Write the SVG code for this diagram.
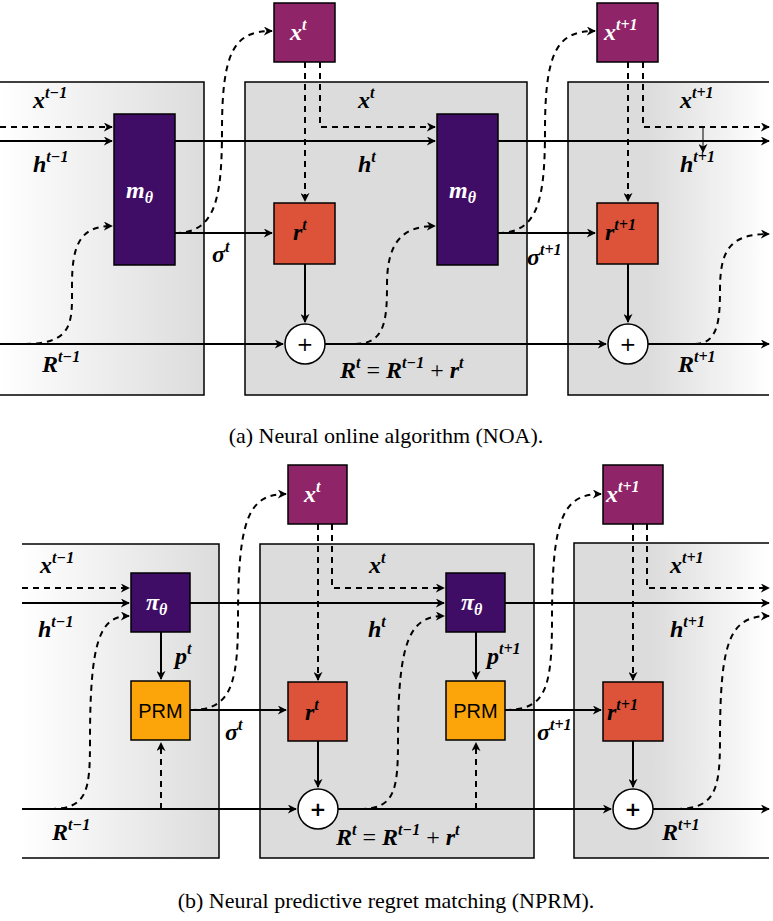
<svg xmlns="http://www.w3.org/2000/svg" width="773" height="921" viewBox="0 0 773 921">
<style>
.ln{stroke:#000;stroke-width:2;fill:none}
.ds{stroke:#000;stroke-width:2;fill:none;stroke-dasharray:6,5}
.m{font-family:"Liberation Serif",serif;font-style:italic;font-weight:bold;font-size:24px;fill:#000}
.w{fill:#fff}
.sp{font-size:16px}
.cap{font-family:"Liberation Serif",serif;font-size:22px;fill:#000}
.box{stroke:#000;stroke-width:1.5}
</style>
<defs>
<marker id="ah" viewBox="0 0 10 10" refX="9" refY="5" markerWidth="9" markerHeight="9" markerUnits="userSpaceOnUse" orient="auto"><path d="M0,0 L10,5 L0,10 L3,5 z" fill="#000"/></marker>
<linearGradient id="gl" x1="0" x2="1" y1="0" y2="0"><stop offset="0" stop-color="#fff"/><stop offset="1" stop-color="#dcdcdc"/></linearGradient>
<linearGradient id="gr" x1="0" x2="1" y1="0" y2="0"><stop offset="0" stop-color="#dcdcdc"/><stop offset="0.4" stop-color="#dcdcdc"/><stop offset="1" stop-color="#fff"/></linearGradient>
</defs>

<!-- panel a backgrounds -->
<g id="a-cells">
<path d="M0,82 H204 V395 H0" fill="url(#gl)" stroke="#000" stroke-width="1.5"/>
<rect x="245" y="82" width="282" height="313" fill="#dcdcdc" stroke="#000" stroke-width="1.5"/>
<path d="M769,82 H568 V395 H769" fill="url(#gr)" stroke="#000" stroke-width="1.5"/>
</g>
<!-- panel b backgrounds -->
<g id="b-cells">
<path d="M22,544 H219 V858 H22" fill="url(#gl)" stroke="#000" stroke-width="1.5"/>
<rect x="260" y="544" width="274" height="314" fill="#dcdcdc" stroke="#000" stroke-width="1.5"/>
<path d="M769,543 H574 V858 H769" fill="url(#gr)" stroke="#000" stroke-width="1.5"/>
</g>

<g id="connectors">
<!-- panel a -->
<path class="ds" d="M0,127 H112" marker-end="url(#ah)"/>
<path class="ln" d="M0,141 H112" marker-end="url(#ah)"/>
<path class="ds" d="M25,344 C75,344 72,320 72,285 C72,245 80,226 112,226" marker-end="url(#ah)"/>
<path class="ds" d="M175,233 C215,233 222,200 222,130 C222,50 235,31 272,31" marker-end="url(#ah)"/>
<path class="ln" d="M175,233 H272" marker-end="url(#ah)"/>
<path class="ln" d="M175,141 H435" marker-end="url(#ah)"/>
<path class="ds" d="M305,62 V201" marker-end="url(#ah)"/>
<path class="ds" d="M320,62 V127 H435" marker-end="url(#ah)"/>
<path class="ln" d="M305,264 V322" marker-end="url(#ah)"/>
<path class="ln" d="M0,344 H283" marker-end="url(#ah)"/>
<path class="ln" d="M325,344 H606" marker-end="url(#ah)"/>
<path class="ds" d="M355,344 C385,344 387,320 387,285 C387,245 400,226 435,226" marker-end="url(#ah)"/>
<path class="ln" d="M498,141 H769" marker-end="url(#ah)"/>
<path class="ds" d="M498,233 C538,233 545,200 545,130 C545,50 558,31 595,31" marker-end="url(#ah)"/>
<path class="ln" d="M498,233 H595" marker-end="url(#ah)"/>
<path class="ds" d="M628,62 V201" marker-end="url(#ah)"/>
<path class="ds" d="M643,62 V127 H769" marker-end="url(#ah)"/>
<path d="M703,127 V152" stroke="#000" stroke-width="1" fill="none" marker-end="url(#ah)"/>
<path class="ln" d="M628,264 V322" marker-end="url(#ah)"/>
<path class="ln" d="M648,344 H769" marker-end="url(#ah)"/>
<path class="ds" d="M695,344 C718,344 720,320 720,290 C720,250 730,234 769,234" marker-end="url(#ah)"/>

<!-- panel b -->
<path class="ds" d="M22,588 H129" marker-end="url(#ah)"/>
<path class="ln" d="M22,603 H129" marker-end="url(#ah)"/>
<path class="ds" d="M50,809 C88,809 90,790 90,740 C90,640 100,616 129,616" marker-end="url(#ah)"/>
<path class="ln" d="M161,632 V679" marker-end="url(#ah)"/>
<path class="ds" d="M161,809 V743" marker-end="url(#ah)"/>
<path class="ds" d="M190,710 C228,710 238,690 238,620 C238,520 248,494 286,494" marker-end="url(#ah)"/>
<path class="ln" d="M190,710 H286" marker-end="url(#ah)"/>
<path class="ln" d="M190,603 H444" marker-end="url(#ah)"/>
<path class="ds" d="M318,524 V680" marker-end="url(#ah)"/>
<path class="ds" d="M332,524 V588 H444" marker-end="url(#ah)"/>
<path class="ln" d="M318,741 V787" marker-end="url(#ah)"/>
<path class="ln" d="M22,809 H296" marker-end="url(#ah)"/>
<path class="ln" d="M338,809 H611" marker-end="url(#ah)"/>
<path class="ds" d="M360,809 C395,809 398,790 398,740 C398,640 410,616 444,616" marker-end="url(#ah)"/>
<path class="ln" d="M476,632 V679" marker-end="url(#ah)"/>
<path class="ds" d="M476,809 V743" marker-end="url(#ah)"/>
<path class="ds" d="M505,710 C545,710 552,690 552,620 C552,520 562,494 601,494" marker-end="url(#ah)"/>
<path class="ln" d="M505,710 H601" marker-end="url(#ah)"/>
<path class="ln" d="M505,603 H769" marker-end="url(#ah)"/>
<path class="ds" d="M633,524 V680" marker-end="url(#ah)"/>
<path class="ds" d="M647,524 V588 H769" marker-end="url(#ah)"/>
<path class="ln" d="M633,741 V787" marker-end="url(#ah)"/>
<path class="ln" d="M653,809 H769" marker-end="url(#ah)"/>
<path class="ds" d="M676,809 C715,809 720,790 720,740 C720,640 730,616 769,616" marker-end="url(#ah)"/>
</g>

<!-- panel a nodes -->
<g id="a-xt"><rect class="box" x="274" y="3" width="61" height="59" fill="#8f2468"/><text class="m w" x="290" y="40">x<tspan class="sp" dy="-10">t</tspan></text></g>
<g id="a-xt1"><rect class="box" x="597" y="3" width="61" height="59" fill="#8f2468"/><text class="m w" x="604" y="40">x<tspan class="sp" dy="-10">t+1</tspan></text></g>
<g id="a-m1"><rect class="box" x="114" y="114" width="61" height="151" fill="#3f0c66"/><text class="m w" x="126" y="198">m<tspan class="sp" dy="5">θ</tspan></text></g>
<g id="a-m2"><rect class="box" x="437" y="114" width="61" height="151" fill="#3f0c66"/><text class="m w" x="449" y="198">m<tspan class="sp" dy="5">θ</tspan></text></g>
<g id="a-rt"><rect class="box" x="274" y="203" width="61" height="61" fill="#dd533a"/><text class="m" x="293" y="240">r<tspan class="sp" dy="-10">t</tspan></text></g>
<g id="a-rt1"><rect class="box" x="597" y="203" width="61" height="61" fill="#dd533a"/><text class="m" x="605" y="240">r<tspan class="sp" dy="-10">t+1</tspan></text></g>
<g id="a-p1"><circle cx="305" cy="344" r="20" fill="#fff" stroke="#000" stroke-width="1.5"/><text x="305" y="351" text-anchor="middle" font-family="DejaVu Sans,sans-serif" font-size="20">+</text></g>
<g id="a-p2"><circle cx="628" cy="344" r="20" fill="#fff" stroke="#000" stroke-width="1.5"/><text x="628" y="351" text-anchor="middle" font-family="DejaVu Sans,sans-serif" font-size="20">+</text></g>

<!-- panel a labels -->
<g id="a-labels">
<text class="m" x="33" y="108">x<tspan class="sp" dy="-10">t−1</tspan></text>
<text class="m" x="33" y="172">h<tspan class="sp" dy="-10">t−1</tspan></text>
<text class="m" x="42" y="372">R<tspan class="sp" dy="-10">t−1</tspan></text>
<text class="m" x="212" y="262">σ<tspan class="sp" dy="-10">t</tspan></text>
<text class="m" x="358" y="108">x<tspan class="sp" dy="-10">t</tspan></text>
<text class="m" x="358" y="172">h<tspan class="sp" dy="-10">t</tspan></text>
<text class="m" x="340" y="378">R<tspan class="sp" dy="-10">t</tspan><tspan dy="10" font-style="normal" font-weight="normal"> = </tspan>R<tspan class="sp" dy="-10">t−1</tspan><tspan dy="10" font-style="normal" font-weight="normal"> + </tspan>r<tspan class="sp" dy="-10">t</tspan></text>
<text class="m" x="527" y="265">σ<tspan class="sp" dy="-10">t+1</tspan></text>
<text class="m" x="680" y="108">x<tspan class="sp" dy="-10">t+1</tspan></text>
<text class="m" x="680" y="172">h<tspan class="sp" dy="-10">t+1</tspan></text>
<text class="m" x="678" y="372">R<tspan class="sp" dy="-10">t+1</tspan></text>
<text class="cap" x="386" y="443" text-anchor="middle">(a) Neural online algorithm (NOA).</text>
</g>

<!-- panel b nodes -->
<g id="b-xt"><rect class="box" x="288" y="465" width="59" height="59" fill="#8f2468"/><text class="m w" x="304" y="502">x<tspan class="sp" dy="-10">t</tspan></text></g>
<g id="b-xt1"><rect class="box" x="603" y="465" width="60" height="59" fill="#8f2468"/><text class="m w" x="606" y="502">x<tspan class="sp" dy="-10">t+1</tspan></text></g>
<g id="b-pi1"><rect class="box" x="131" y="573" width="59" height="59" fill="#3f0c66"/><text class="m w" x="146" y="610">π<tspan class="sp" dy="5">θ</tspan></text></g>
<g id="b-pi2"><rect class="box" x="446" y="573" width="59" height="59" fill="#3f0c66"/><text class="m w" x="461" y="610">π<tspan class="sp" dy="5">θ</tspan></text></g>
<g id="b-prm1"><rect class="box" x="131" y="681" width="59" height="59" fill="#fca50a"/><text x="160.5" y="718" text-anchor="middle" font-family="Liberation Sans,sans-serif" font-size="20">PRM</text></g>
<g id="b-prm2"><rect class="box" x="446" y="681" width="59" height="59" fill="#fca50a"/><text x="475.5" y="718" text-anchor="middle" font-family="Liberation Sans,sans-serif" font-size="20">PRM</text></g>
<g id="b-rt"><rect class="box" x="288" y="682" width="59" height="59" fill="#dd533a"/><text class="m" x="305" y="720">r<tspan class="sp" dy="-10">t</tspan></text></g>
<g id="b-rt1"><rect class="box" x="603" y="682" width="60" height="59" fill="#dd533a"/><text class="m" x="607" y="720">r<tspan class="sp" dy="-10">t+1</tspan></text></g>
<g id="b-p1"><circle cx="318" cy="809" r="20" fill="#fff" stroke="#000" stroke-width="1.5"/><text x="318" y="816" text-anchor="middle" font-family="DejaVu Sans,sans-serif" font-size="20" font-weight="bold">+</text></g>
<g id="b-p2"><circle cx="633" cy="809" r="20" fill="#fff" stroke="#000" stroke-width="1.5"/><text x="633" y="816" text-anchor="middle" font-family="DejaVu Sans,sans-serif" font-size="20" font-weight="bold">+</text></g>

<g id="b-labels">
<text class="m" x="40" y="573">x<tspan class="sp" dy="-10">t−1</tspan></text>
<text class="m" x="38" y="637">h<tspan class="sp" dy="-10">t−1</tspan></text>
<text class="m" x="52" y="840">R<tspan class="sp" dy="-10">t−1</tspan></text>
<text class="m" x="175" y="664">p<tspan class="sp" dy="-10">t</tspan></text>
<text class="m" x="225" y="740">σ<tspan class="sp" dy="-10">t</tspan></text>
<text class="m" x="369" y="573">x<tspan class="sp" dy="-10">t</tspan></text>
<text class="m" x="368" y="637">h<tspan class="sp" dy="-10">t</tspan></text>
<text class="m" x="336" y="845">R<tspan class="sp" dy="-10">t</tspan><tspan dy="10" font-style="normal" font-weight="normal"> = </tspan>R<tspan class="sp" dy="-10">t−1</tspan><tspan dy="10" font-style="normal" font-weight="normal"> + </tspan>r<tspan class="sp" dy="-10">t</tspan></text>
<text class="m" x="487" y="664">p<tspan class="sp" dy="-10">t+1</tspan></text>
<text class="m" x="537" y="740">σ<tspan class="sp" dy="-10">t+1</tspan></text>
<text class="m" x="670" y="573">x<tspan class="sp" dy="-10">t+1</tspan></text>
<text class="m" x="670" y="637">h<tspan class="sp" dy="-10">t+1</tspan></text>
<text class="m" x="662" y="840">R<tspan class="sp" dy="-10">t+1</tspan></text>
<text class="cap" x="386" y="908" text-anchor="middle">(b) Neural predictive regret matching (NPRM).</text>
</g>
</svg>
